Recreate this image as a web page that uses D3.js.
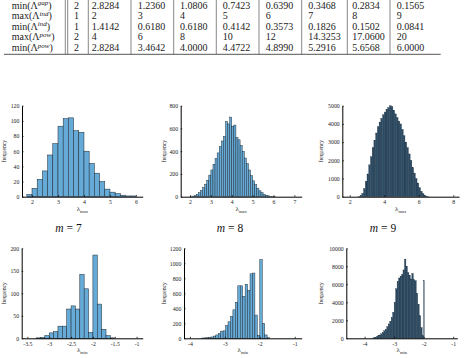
<!DOCTYPE html>
<html><head><meta charset="utf-8">
<script src="https://cdn.jsdelivr.net/npm/d3@7"></script>
<style>body{margin:0;background:#fff}svg{display:block}</style>
</head><body><svg id="c" width="474" height="358"></svg>
<script>
// ---------------- data ----------------
const rowFns = ["min", "max", "min", "max", "min"];
const rowSups = ["gap", "ind", "ind", "pow", "pow"];
const rowMinGap = ["2", "2.8284", "1.2360", "1.0806", "0.7423", "0.6390", "0.3468", "0.2834", "0.1565"];
const rowMaxInd = ["1", "2", "3", "4", "5", "6", "7", "8", "9"];
const rowMinInd = ["1", "1.4142", "0.6180", "0.6180", "0.4142", "0.3573", "0.1826", "0.1502", "0.0841"];
const rowMaxPow = ["2", "4", "6", "8", "10", "12", "14.3253", "17.0600", "20"];
const rowMinPow = ["2", "2.8284", "3.4642", "4.0000", "4.4722", "4.8990", "5.2916", "5.6568", "6.0000"];

const titles = ["m = 7", "m = 8", "m = 9"];

// histogram A (top-left, lambda max)
const hA_start = 1.8, hA_width = 0.2;
const hA_counts = [3, 11, 23, 34, 55, 70, 93, 103, 104, 87, 85, 60, 44, 31, 20, 10, 6, 4, 2, 1, 1];
const hA_xticks = [2, 3, 4, 5, 6];
const hA_yticks = [0, 20, 40, 60, 80, 100, 120];

// histogram B (top-middle, lambda max)
const hB_start = 2.0, hB_width = 0.1;
const hB_counts = [2, 5, 10, 20, 35, 55, 80, 110, 145, 190, 235, 285, 335, 385, 440, 490, 530, 660, 640, 700,
  620, 630, 520, 500, 450, 400, 340, 290, 235, 185, 140, 105, 75, 52, 35, 22, 13, 8, 4, 2, 1];
const hB_xticks = [2, 3, 4, 5, 6, 7];
const hB_yticks = [0, 200, 400, 600, 800];

// histogram C (top-right, lambda max)
const hC_start = 2.5, hC_width = 0.1;
const hC_counts = [20, 60, 180, 450, 850, 1250, 1750, 2200, 2700, 3100, 3500, 3850, 4100, 4300, 4500, 4650, 4800,
  4900, 5000, 4950, 4750, 4550, 4350, 4150, 4000, 3700, 3350, 3000, 2700, 2350, 2000, 1600, 1300, 1000, 750,
  500, 300, 170, 80, 35, 10];
const hC_xticks = [2, 4, 6, 8];
const hC_yticks = [0, 1000, 2000, 3000, 4000, 5000];

// histogram D (m = 7, lambda min)
const hD_start = -3.3, hD_width = 0.1;
const hD_counts = [1, 2, 6, 12, 15, 27, 27, 65, 72, 65, 142, 110, 13, 185, 76, 20, 6, 1];
const hD_xticks = [-3.5, -3, -2.5, -2, -1.5, -1];
const hD_yticks = [0, 50, 100, 150, 200];

// histogram E (m = 8, lambda min)
const hE_start = -3.68, hE_width = 0.07;
const hE_counts = [3, 5, 8, 12, 18, 30, 45, 65, 95, 100, 170, 220, 290, 380, 480, 700, 700, 560, 720, 640,
  860, 870, 310, 40, 1050, 200, 45, 8];
const hE_xticks = [-4, -3, -2, -1];
const hE_yticks = [0, 200, 400, 600, 800, 1000, 1200];

// histogram F (m = 9, lambda min)
const hF_start = -3.75, hF_width = 0.05;
const hF_counts = [20, 60, 120, 200, 280, 370, 500, 650, 850, 1000, 1300, 1600, 1900, 2300, 2900, 4000, 5500,
  6300, 6700, 6900, 7100, 7600, 8800, 8000, 7300, 7000, 6600, 7200, 6500, 6400, 5000, 3800, 2500, 1200, 300];
const hF_spike = {x: -2.0, w: 0.02, count: 6400};
const hF_xticks = [-4, -3, -2, -1];
const hF_yticks = [0, 2000, 4000, 6000, 8000, 10000];

// ---------------- drawing ----------------
const SERIF = "Liberation Serif, DejaVu Serif, Times New Roman, serif";
const svg = d3.select("#c");

// table
const tableRows = [rowMinGap, rowMaxInd, rowMinInd, rowMaxPow, rowMinPow];
const colLines = [88.3, 131, 173.7, 216.3, 259, 301.7, 347.3, 390];
const colText = [74, 91.7, 137.7, 180, 222.7, 265.7, 308.3, 352.3, 396.7];
const rowBase = [8.6, 19, 29.6, 40.3, 51];
const tg = svg.append("g").style("font-family", SERIF).attr("fill", "#222");
tableRows.forEach((row, r) => {
  const lab = tg.append("text").attr("x", 11.7).attr("y", rowBase[r]).style("font-size", "10px");
  lab.append("tspan").text(rowFns[r] + "(Λ");
  lab.append("tspan").attr("dy", -3.4).style("font-size", "7px").style("font-style", "italic").text(rowSups[r]);
  lab.append("tspan").attr("dy", 3.4).text(")");
  row.forEach((v, c) => {
    tg.append("text").attr("x", colText[c]).attr("y", rowBase[r]).style("font-size", "10px").text(v);
  });
});
const lg = svg.append("g").attr("stroke", "#555").attr("stroke-width", 0.7);
[65.3, 67.7].concat(colLines).forEach(x => {
  lg.append("line").attr("x1", x).attr("x2", x).attr("y1", 0).attr("y2", 54);
});
lg.append("line").attr("x1", 4).attr("x2", 440.7).attr("y1", 54.3).attr("y2", 54.3).attr("stroke-width", 1);

function hist(o) {
  const g = svg.append("g");
  const x = d3.scaleLinear().domain(o.xdom).range([o.x0, o.x1]);
  const y = d3.scaleLinear().domain([0, o.ymax]).range([o.yb, o.yt]);
  const bins = o.counts.map((c, i) => ({x0: o.start + i * o.width, x1: o.start + (i + 1) * o.width, c}));
  if (o.spike) bins.push({x0: o.spike.x, x1: o.spike.x + o.spike.w, c: o.spike.count});
  g.selectAll("rect.b").data(bins).join("rect")
    .attr("x", d => x(d.x0)).attr("width", d => x(d.x1) - x(d.x0))
    .attr("y", d => y(d.c)).attr("height", d => y(0) - y(d.c))
    .attr("fill", o.fill).attr("stroke", o.stroke).attr("stroke-width", o.sw);
  const ax = g.append("g").attr("transform", `translate(0,${o.yb})`)
    .call(d3.axisBottom(x).tickValues(o.xticks).tickSize(-1.5).tickSizeOuter(0).tickPadding(3.2)
      .tickFormat(d => d3.format("")(d).replace("−", "-")));
  const ay = g.append("g").attr("transform", `translate(${o.x0},0)`)
    .call(d3.axisLeft(y).tickValues(o.yticks).tickSize(-1.5).tickSizeOuter(0).tickPadding(2.6)
      .tickFormat(d3.format("")));
  [ax, ay].forEach(a => {
    a.attr("font-family", null).attr("font-size", null);
    a.select(".domain").attr("stroke", "#000").attr("stroke-width", 1);
    a.selectAll(".tick line").attr("stroke", "#000").attr("stroke-width", 0.8);
    a.selectAll("text").style("font-family", SERIF).style("font-size", "5.8px").attr("fill", "#222");
  });
  // y label
  g.append("text").attr("transform", `translate(${o.ylx},${(o.yt + o.yb) / 2}) rotate(-90)`)
    .attr("text-anchor", "middle").attr("dominant-baseline", "central")
    .style("font-family", SERIF).style("font-size", "5.6px").attr("fill", "#222").text("frequency");
  // x label
  const xl = g.append("text").attr("x", (o.x0 + o.x1) / 2).attr("y", o.yb + 14)
    .attr("text-anchor", "middle").style("font-family", SERIF).style("font-size", "7px").attr("fill", "#222");
  xl.append("tspan").text("λ");
  xl.append("tspan").attr("dy", 1.8).style("font-size", "4.6px").text(o.sub);
  if (o.title) {
    const t = svg.append("text").attr("x", o.tx).attr("y", 231.5).attr("text-anchor", "middle")
      .style("font-family", SERIF).style("font-size", "11.5px").attr("fill", "#111");
    t.append("tspan").style("font-style", "italic").text("m");
    t.append("tspan").text(o.title.slice(1));
  }
}

const light = "#66aad7", lightStroke = "#1b2630", dark = "#2c4b64", darkStroke = "#1c2f40";
hist({x0: 22, x1: 142.7, yt: 105.7, yb: 196.7, xdom: [1.615, 6.26], ymax: 120, start: hA_start, width: hA_width,
  counts: hA_counts, xticks: hA_xticks, yticks: hA_yticks, fill: light, stroke: lightStroke, sw: 0.5, ylx: 3.5, sub: "max"});
hist({x0: 180.7, x1: 301.7, yt: 105.7, yb: 196.7, xdom: [1.555, 7.35], ymax: 800, start: hB_start, width: hB_width,
  counts: hB_counts, xticks: hB_xticks, yticks: hB_yticks, fill: light, stroke: lightStroke, sw: 0.45, ylx: 163.5, sub: "max"});
hist({x0: 342.3, x1: 459, yt: 105.7, yb: 196.7, xdom: [1.57, 8.33], ymax: 5000, start: hC_start, width: hC_width,
  counts: hC_counts, xticks: hC_xticks, yticks: hC_yticks, fill: dark, stroke: darkStroke, sw: 0.3, ylx: 320.5, sub: "max"});
hist({x0: 21.7, x1: 142.7, yt: 248.3, yb: 338.3, xdom: [-3.63, -0.86], ymax: 200, start: hD_start, width: hD_width,
  counts: hD_counts, xticks: hD_xticks, yticks: hD_yticks, fill: light, stroke: lightStroke, sw: 0.5, ylx: 3.5, sub: "min",
  title: titles[0], tx: 68.5});
hist({x0: 184, x1: 301.7, yt: 248.3, yb: 338.3, xdom: [-4.17, -0.8], ymax: 1200, start: hE_start, width: hE_width,
  counts: hE_counts, xticks: hE_xticks, yticks: hE_yticks, fill: light, stroke: lightStroke, sw: 0.45, ylx: 163.5, sub: "min",
  title: titles[1], tx: 230});
hist({x0: 346.3, x1: 457.3, yt: 248.3, yb: 338.3, xdom: [-4.62, -0.86], ymax: 10000, start: hF_start, width: hF_width,
  counts: hF_counts, spike: hF_spike, xticks: hF_xticks, yticks: hF_yticks, fill: dark, stroke: darkStroke, sw: 0.3, ylx: 320.5, sub: "min",
  title: titles[2], tx: 383});
</script></body></html>
